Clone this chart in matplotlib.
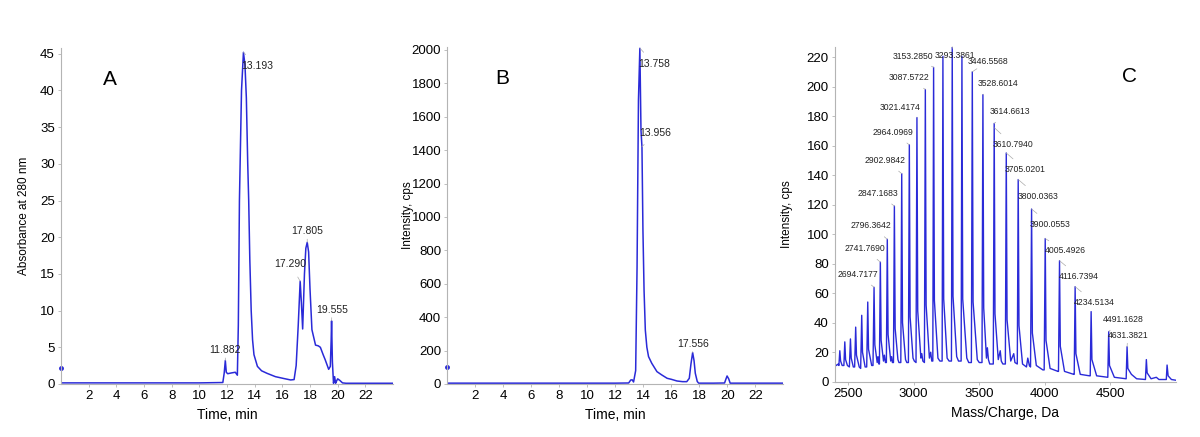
import matplotlib
matplotlib.use("Agg")
import matplotlib.pyplot as plt
from matplotlib import font_manager

# condensed font for numbers (fall back when not installed)
names = {f.name for f in font_manager.fontManager.ttflist}
narrow = "DejaVu Sans"
for cand in ["Liberation Sans Narrow", "DejaVu Sans Condensed", "Liberation Sans"]:
    if cand in names:
        narrow = cand
        break
plain = "Liberation Sans" if "Liberation Sans" in names else "DejaVu Sans"

# -------------------------------
# A : UV chromatogram (absorbance at 280 nm)
# -------------------------------
a_time = [0.0, 2.0, 4.0, 6.0, 8.0, 10.0, 11.7, 11.8, 11.88, 11.95, 12.05, 12.3, 12.6,
          12.75, 12.82, 12.9, 13.05, 13.19, 13.3, 13.4, 13.5, 13.57, 13.65, 13.75,
          13.85, 13.95, 14.2, 14.5, 14.9, 15.5, 16.1, 16.6, 16.85, 17.0, 17.15,
          17.29, 17.38, 17.47, 17.6, 17.7, 17.8, 17.9, 18.0, 18.14, 18.4, 18.6,
          18.75, 18.95, 19.1, 19.35, 19.47, 19.53, 19.56, 19.62, 19.7, 19.78,
          19.85, 19.92, 20.0, 20.15, 20.35, 20.6, 22.0, 24.0]
a_abs = [0.15, 0.15, 0.15, 0.15, 0.15, 0.15, 0.2, 1.5, 3.2, 1.6, 1.4, 1.5, 1.6,
         1.2, 8.0, 25.0, 40.0, 45.2, 43.5, 39.0, 30.0, 25.0, 17.0, 10.0,
         6.0, 4.0, 2.4, 1.8, 1.45, 1.0, 0.75, 0.55, 0.6, 2.5, 8.0,
         14.0, 11.0, 7.5, 15.0, 18.5, 19.3, 18.0, 13.0, 7.4, 5.3, 5.2,
         5.0, 4.0, 3.3, 2.0, 2.4, 6.0, 8.6, 3.0, 0.1, 1.0,
         0.1, 0.4, 0.7, 0.5, 0.15, 0.1, 0.1, 0.1]
a_labels = ["11.882", "13.193", "17.290", "17.805", "19.555"]
a_peak_t = [11.88, 13.19, 17.29, 17.80, 19.56]
a_peak_y = [3.2, 45.2, 14.0, 19.3, 8.6]
a_text_xy = [(11.88, 4.6), (14.2, 43.3), (16.6, 16.3), (17.8, 20.8), (19.6, 10.1)]

# -------------------------------
# B : MS total ion chromatogram
# -------------------------------
b_time = [0.0, 4.0, 8.0, 12.0, 12.95, 13.1, 13.2, 13.3, 13.45, 13.55, 13.65,
          13.75, 13.83, 13.9, 13.97, 14.05, 14.14, 14.25, 14.37, 14.6, 14.97,
          15.3, 15.7, 16.0, 16.4, 16.8, 17.1, 17.28, 17.4, 17.52, 17.62, 17.71,
          17.85, 17.95, 19.0, 19.8, 19.9, 19.98, 20.1, 20.2, 22.0, 24.0]
b_int = [5, 5, 5, 5, 6, 24, 25, 12, 80, 700, 1700,
         2010, 1520, 1420, 920, 560, 323, 220, 164, 124, 74,
         55, 34, 28, 18, 14, 14, 34, 120, 188, 140, 64,
         15, 5, 5, 6, 30, 48, 30, 5, 5, 5]
b_labels = ["13.758", "13.956", "17.556"]
b_peak_t = [13.76, 13.90, 17.52]
b_peak_y = [2010, 1420, 188]
b_text_xy = [(14.8, 1915), (14.85, 1505), (17.53, 240)]

# -------------------------------
# C : charge state envelope (mass spectrum)
# -------------------------------
c_mz = [2400, 2410, 2425,
        2430, 2437, 2443, 2455, 2468, 2475, 2481, 2495, 2510, 2518, 2524, 2540,
        2550, 2558, 2564, 2585, 2596, 2604, 2610, 2630, 2642, 2650, 2656, 2680,
        2690, 2698, 2704, 2722, 2728, 2735, 2739, 2746, 2752, 2770, 2777, 2785,
        2792, 2799, 2805, 2825, 2832, 2838, 2846, 2853, 2859, 2880, 2888,
        2902, 2909, 2915, 2938, 2948, 2960, 2967, 2973, 2995, 3005,
        3018, 3025, 3031, 3055, 3062, 3070, 3082, 3089, 3095, 3120, 3130, 3138,
        3146, 3152, 3158, 3185, 3200, 3217, 3223, 3229, 3255, 3270,
        3288, 3294, 3300, 3328, 3342, 3362, 3368, 3374, 3405, 3420,
        3440, 3447, 3453, 3485, 3500, 3521, 3528, 3534, 3555, 3562, 3570, 3580,
        3607, 3614, 3620, 3645, 3660, 3668, 3680, 3699, 3706, 3712, 3740, 3763,
        3772, 3790, 3797, 3803, 3830, 3860, 3870, 3882, 3891, 3899, 3905, 3935,
        3985, 3995, 4003, 4009, 4040, 4100, 4104, 4112, 4118, 4150, 4220,
        4224, 4231, 4237, 4270, 4340, 4346, 4353, 4359, 4395, 4475,
        4480, 4487, 4493, 4530, 4615, 4620, 4627, 4633, 4660, 4700, 4760,
        4767, 4774, 4780, 4810, 4850, 4870, 4920, 4926, 4932, 4940, 4965, 5000]
c_int = [12, 11, 12,
         11, 21, 14, 11, 11, 27, 15, 11, 10, 29, 16, 10,
         10, 37, 18, 10, 9, 45, 20, 10, 10, 54, 22, 11,
         11, 64, 25, 13, 17, 12, 12, 81, 28, 14, 18, 13,
         13, 96.5, 32, 14, 17, 13, 13, 119, 36, 15, 13,
         13, 141, 40, 15, 13, 13, 160.5, 44, 16, 14,
         13, 179, 48, 16, 19, 14, 13, 198, 52, 16, 20, 14,
         14, 213, 55, 16, 14, 14, 220.5, 56, 16, 14,
         14, 227, 58, 17, 14, 14, 220.5, 56, 16, 13,
         13, 210, 54, 15, 13, 13, 194.5, 50, 16, 23, 15, 12,
         12, 175, 46, 15, 21, 14, 12, 12, 155, 42, 14, 19,
         13, 12, 137, 38, 12, 10, 16, 11, 10, 117, 33, 11,
         8, 8, 97, 28, 9, 7, 7, 82, 24, 7, 5,
         5, 64.4, 19, 5, 4, 4, 47.5, 15, 4, 3,
         3, 34, 11, 3, 2, 2, 23.7, 9, 5, 2, 1.5,
         1.5, 15, 6, 2, 3, 1.5, 1.5, 1.5, 11.3, 4, 1.5, 1]
c_labels = ["2694.7177", "2741.7690", "2796.3642", "2847.1683", "2902.9842",
            "2964.0969", "3021.4174", "3087.5722", "3153.2850", "3293.3861",
            "3446.5568", "3528.6014", "3614.6613", "3610.7940", "3705.0201",
            "3800.0363", "3900.0553", "4005.4926", "4116.7394", "4234.5134",
            "4491.1628", "4631.3821"]
c_peak_mz = [2698, 2746, 2799, 2853, 2909, 2967, 3025, 3089, 3152, 3294,
             3447, 3528, 3614, 3617, 3706, 3797, 3899, 4003, 4112, 4231,
             4487, 4627]
c_peak_y = [64, 81, 96.5, 119, 141, 160.5, 179, 198, 213, 227,
            210, 194.5, 175, 172, 155, 137, 117, 97, 82, 64.4,
            34, 23.7]
c_text_xy = [(2576, 72.8), (2627, 90.4), (2678, 105.6), (2728, 127.7), (2784, 150),
             (2843, 169), (2898, 186), (2964, 206), (2995, 220.5), (3312, 221),
             (3565, 217), (3642, 202), (3731, 183), (3756, 160.5), (3853, 143.6),
             (3949, 125.5), (4040, 106.7), (4157, 88.6), (4259, 71.2), (4378, 53.6),
             (4594, 42.3), (4632, 31)]

blue = "#2a2ad8"
spine_c = "#b4b4b4"

fig = plt.figure(figsize=(12, 4.37), dpi=100)
axA = fig.add_axes([0.0508, 0.1213, 0.2767, 0.7690])
axB = fig.add_axes([0.3728, 0.1213, 0.2800, 0.7720])
axC = fig.add_axes([0.6958, 0.1265, 0.2842, 0.7666])


def style(ax):
    for s in ["top", "right"]:
        ax.spines[s].set_visible(False)
    for s in ["left", "bottom"]:
        ax.spines[s].set_color(spine_c)
        ax.spines[s].set_linewidth(0.8)
    ax.tick_params(length=2.5, width=0.6, color=spine_c, pad=2, labelsize=9.5)
    for lab in ax.get_xticklabels() + ax.get_yticklabels():
        lab.set_fontfamily(narrow)


def leaders(ax, labels, px, py, txy, fs):
    for lab, x, y, (tx, ty) in zip(labels, px, py, txy):
        ax.annotate(lab, xy=(x, y), xytext=(tx, ty), ha="center", va="center",
                    fontsize=fs, family=narrow, color="#222222",
                    arrowprops=dict(arrowstyle="-", color="#aaaaaa", lw=0.5,
                                    shrinkA=4, shrinkB=0))


# Panel A
axA.plot(a_time, a_abs, color=blue, lw=1.1)
axA.plot([0], [2.2], "o", color=blue, ms=2.5, clip_on=False)
axA.set_xlim(0, 24)
axA.set_ylim(0, 45.8)
axA.set_xticks(range(2, 24, 2))
axA.set_yticks(range(0, 50, 5))
style(axA)
leaders(axA, a_labels, a_peak_t, a_peak_y, a_text_xy, 7.5)
axA.set_xlabel("Time, min", family=narrow, fontsize=10, labelpad=4)
axA.set_ylabel("Absorbance at 280 nm", family=plain, fontsize=8.5, labelpad=7)
axA.text(0.148, 0.905, "A", transform=axA.transAxes, fontsize=15, family=plain,
         ha="center", va="center")

# Panel B
axB.plot(b_time, b_int, color=blue, lw=1.1)
axB.plot([0], [100], "o", color=blue, ms=2.5, clip_on=False)
axB.set_xlim(0, 24)
axB.set_ylim(0, 2020)
axB.set_xticks(range(2, 24, 2))
axB.set_yticks(range(0, 2200, 200))
style(axB)
leaders(axB, b_labels, b_peak_t, b_peak_y, b_text_xy, 7.5)
axB.set_xlabel("Time, min", family=narrow, fontsize=10, labelpad=4)
axB.set_ylabel("Intensity, cps", family=plain, fontsize=8.5, labelpad=-2)
axB.text(0.162, 0.905, "B", transform=axB.transAxes, fontsize=15, family=plain,
         ha="center", va="center")

# Panel C
axC.plot(c_mz, c_int, color=blue, lw=1.0)
axC.set_xlim(2400, 5000)
axC.set_ylim(0, 227)
axC.set_xticks(range(2500, 5000, 500))
axC.set_yticks(range(0, 240, 20))
style(axC)
leaders(axC, c_labels, c_peak_mz, c_peak_y, c_text_xy, 6.2)
axC.set_xlabel("Mass/Charge, Da", family=narrow, fontsize=10, labelpad=4)
axC.set_ylabel("Intensity, cps", family=plain, fontsize=8.5, labelpad=10)
axC.text(0.865, 0.91, "C", transform=axC.transAxes, fontsize=15, family=plain,
         ha="center", va="center")

plt.savefig("out.png", dpi=100)
